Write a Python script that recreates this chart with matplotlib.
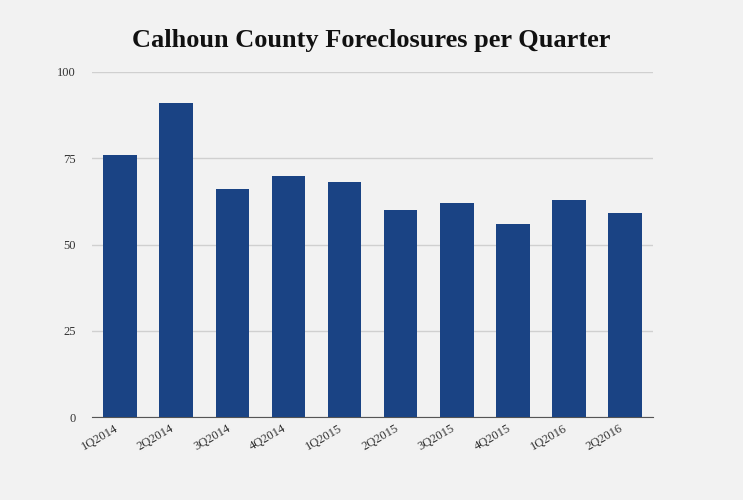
import matplotlib
matplotlib.use("Agg")
import matplotlib.pyplot as plt

categories = ["1Q2014","2Q2014","3Q2014","4Q2014","1Q2015","2Q2015","3Q2015","4Q2015","1Q2016","2Q2016"]
values = [76, 91, 66, 70, 68, 60, 62, 56, 63, 59]
yticks = [0, 25, 50, 75, 100]

bg = "#f2f2f2"
fig = plt.figure(figsize=(7.43, 5.0), dpi=100, facecolor=bg)
ax = fig.add_axes([0.124, 0.166, 0.755, 0.69], facecolor=bg)
x = range(len(categories))
ax.bar(x, values, width=0.6, color="#1a4384", zorder=3)
ax.set_xlim(-0.5, len(categories) - 0.5)
ax.set_ylim(0, 100)
ax.set_yticks(yticks)
ax.set_yticklabels([str(v) for v in yticks], fontfamily="Liberation Serif", fontsize=9, color="#333333")
ax.set_xticks(list(x))
ax.set_xticklabels(categories, rotation=30, ha="right", fontfamily="Liberation Serif", fontsize=9, color="#333333")
ax.grid(axis="y", color="#d0d0d0", linewidth=1, zorder=0)
for s in ["top", "right", "left"]:
    ax.spines[s].set_visible(False)
ax.spines["bottom"].set_color("#555555")
ax.tick_params(axis="y", length=0, pad=12)
ax.tick_params(axis="x", length=0, pad=4)
fig.text(0.5, 0.92, "Calhoun County Foreclosures per Quarter", ha="center", va="center",
         fontfamily="Liberation Serif", fontweight="bold", fontsize=19, color="#111111")
fig.savefig("out.png", dpi=100, facecolor=bg)
